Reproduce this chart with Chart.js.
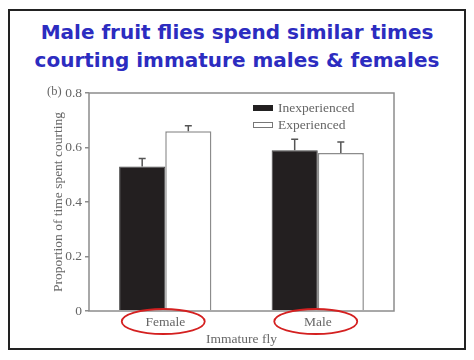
<!DOCTYPE html>
<html>
<head>
<meta charset="utf-8">
<script src="https://cdn.jsdelivr.net/npm/chart.js@4"></script>
<style>
  html, body { margin: 0; padding: 0; background: #fff; }
  #slide { position: relative; width: 474px; height: 360px; overflow: hidden; }
  #frame { position: absolute; left: 8px; top: 9px; width: 454px; height: 337px; border: 2px solid #222; box-sizing: content-box; }
  #title { position: absolute; left: 0; top: 18px; width: 474px; text-align: center; font-family: "DejaVu Sans", Verdana, sans-serif; font-weight: bold; font-size: 20px; line-height: 28px; color: #2c2cc0; }
  canvas { position: absolute; left: 0; top: 0; }
</style>
</head>
<body>
<div id="slide">
  <div id="frame"></div>
  <div id="title">Male fruit flies spend similar times<br>courting immature males &amp; females</div>
  <canvas id="chart" width="474" height="360"></canvas>
</div>
<script>
// data
const categories = ['Female', 'Male'];
const seriesNames = ['Inexperienced', 'Experienced'];
const inexperienced = [0.53, 0.59];
const experienced = [0.66, 0.58];
const inexperiencedErr = [0.03, 0.04];
const experiencedErr = [0.02, 0.04];
const yTicks = [0, 0.2, 0.4, 0.6, 0.8];

const GREY = '#8c8c8c';
const TEXT = '#666666';
const SERIF = '"Liberation Serif", "Times New Roman", serif';
const FS = 13.5;

// error bars (upper half only) + frame around plot + legend + (b) + ellipses
const extras = {
  id: 'extras',
  afterDatasetsDraw(chart) {
    const ctx = chart.ctx;
    const area = chart.chartArea;
    const y = chart.scales.y;
    const x = chart.scales.x;
    const errs = [inexperiencedErr, experiencedErr];
    const vals = [inexperienced, experienced];

    ctx.save();
    // box round the plot
    ctx.strokeStyle = GREY;
    ctx.lineWidth = 1.5;
    ctx.strokeRect(area.left, area.top, area.right - area.left, area.bottom - area.top);

    // error bars
    ctx.strokeStyle = '#555';
    ctx.lineWidth = 1.5;
    chart.data.datasets.forEach((ds, di) => {
      chart.getDatasetMeta(di).data.forEach((bar, i) => {
        const top = y.getPixelForValue(vals[di][i] + errs[di][i]);
        ctx.beginPath();
        ctx.moveTo(bar.x, bar.y);
        ctx.lineTo(bar.x, top);
        ctx.moveTo(bar.x - 3.5, top);
        ctx.lineTo(bar.x + 3.5, top);
        ctx.stroke();
      });
    });

    // legend
    ctx.font = FS + 'px ' + SERIF;
    ctx.textBaseline = 'middle';
    const lx = 253, ly = [108, 125];
    chart.data.datasets.forEach((ds, di) => {
      ctx.fillStyle = ds.backgroundColor;
      ctx.fillRect(lx, ly[di] - 3, 20, 6);
      ctx.strokeStyle = di === 0 ? '#222' : '#777';
      ctx.lineWidth = 1;
      ctx.strokeRect(lx + 0.5, ly[di] - 2.5, 19, 5);
      ctx.fillStyle = TEXT;
      ctx.fillText(ds.label, lx + 25, ly[di]);
    });

    // panel letter
    ctx.font = '12.5px ' + SERIF;
    ctx.textAlign = 'left';
    ctx.fillText('(b)', 47, area.top - 1);

    // red ellipses round the category labels
    ctx.strokeStyle = '#d42020';
    ctx.lineWidth = 1.8;
    categories.forEach((c, i) => {
      const cx = x.getPixelForValue(i) - 2;
      ctx.beginPath();
      ctx.ellipse(cx, area.bottom + 10.5, 41.5, 12.5, 0, 0, Math.PI * 2);
      ctx.stroke();
    });
    ctx.restore();
  }
};

new Chart(document.getElementById('chart'), {
  type: 'bar',
  data: {
    labels: categories,
    datasets: [
      { label: seriesNames[0], data: inexperienced, backgroundColor: '#231f20', borderColor: '#444', borderWidth: 1 },
      { label: seriesNames[1], data: experienced, backgroundColor: '#ffffff', borderColor: GREY, borderWidth: 1.5 }
    ]
  },
  options: {
    responsive: false,
    animation: false,
    layout: { padding: { left: 50, right: 80, top: 93, bottom: 12 } },
    datasets: { bar: { categoryPercentage: 0.605, barPercentage: 1 } },
    plugins: { legend: { display: false }, tooltip: { enabled: false } },
    scales: {
      x: {
        grid: { display: false, drawTicks: false },
        border: { display: false },
        ticks: { color: TEXT, font: { family: SERIF, size: FS }, padding: 3 },
        title: { display: true, text: 'Immature fly', color: TEXT, font: { family: SERIF, size: FS }, padding: { top: 0, bottom: 0 } },
        afterFit(s) { s.height = 37; }
      },
      y: {
        min: 0, max: 0.8,
        afterBuildTicks(s) { s.ticks = yTicks.map(v => ({ value: v })); },
        grid: { drawOnChartArea: false, drawTicks: true, tickLength: 4, color: GREY, lineWidth: 1.5 },
        border: { display: false },
        ticks: { color: TEXT, font: { family: SERIF, size: FS }, padding: 3,
                 callback: v => v === 0 ? '0' : v.toFixed(1) },
        title: { display: true, text: 'Proportion of time spent courting', color: TEXT, font: { family: SERIF, size: FS }, padding: 0 },
        afterFit(s) { s.width = 39; }
      }
    }
  },
  plugins: [extras]
});
</script>
</body>
</html>
